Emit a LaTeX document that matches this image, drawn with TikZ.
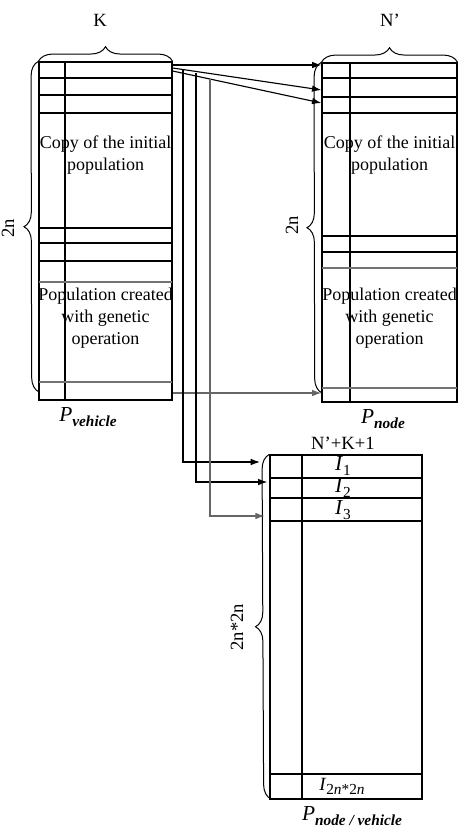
\documentclass[tikz,border=0pt]{standalone}
\usepackage{fontspec}
\setmainfont{Liberation Serif}
\usetikzlibrary{arrows.meta,fit,positioning,decorations.pathreplacing}
\newcommand{\lowsub}[1]{\raisebox{-.45ex}{\fontsize{11.5}{13}\selectfont #1}}
\tikzset{
  tbl/.style={rectangle,draw=black,line width=.95pt,inner sep=0pt},
  rw/.style={draw=black,line width=.85pt},
  rwg/.style={draw=black!55,line width=.95pt},
  arr/.style={-{Latex[length=7pt,width=5pt]},line width=.85pt,draw=black},
  arrg/.style={arr,draw=black!60},
  brc/.style={decorate,decoration={brace,amplitude=11pt},line width=.75pt},
  lb/.style={font=\fontsize{14}{16.5}\selectfont,inner sep=0pt},
  tb/.style={lb,font=\fontsize{13.5}{16.5}\selectfont,align=center},
  big/.style={font=\fontsize{16}{18}\selectfont,inner sep=0pt},
}
\begin{document}
\begin{tikzpicture}[x=0.75pt,y=-0.75pt]
\useasboundingbox (0,0) rectangle (474,828);
% --- P_vehicle
\node[tbl,fit={(39,62)(172,400)}] (veh) {};
\draw[rw] (65,62) -- (65,400);
\foreach \y in {78,95,113,228,243,261}
  \draw[rw] (39,\y) -- (172,\y);
\foreach \y in {282,382}
  \draw[rwg] (39,\y) -- (172,\y);
\node[tb] (vc) at (105.5,155) {Copy of the initial\\population};
\node[tb] (vg) at (105.5,318) {Population created\\with genetic\\operation};
\node[big] (vlab) at (88,417) {\textit{P}\lowsub{\bfseries\itshape vehicle}};
\draw[brc] (veh.north west) -- (veh.north east);
\node[lb] (k) at (100,20) {K};
\draw[brc] (39,392) -- (veh.north west);
\node[lb,rotate=90] (vn) at (8,228) {2n};
% --- P_node
\node[tbl,fit={(322,63)(457,402)}] (nod) {};
\draw[rw] (350,63) -- (350,402);
\foreach \y in {78,97,113,236,252}
  \draw[rw] (322,\y) -- (457,\y);
\foreach \y in {268,388}
  \draw[rwg] (322,\y) -- (457,\y);
\node[tb] (nc) at (389.5,155) {Copy of the initial\\population};
\node[tb] (ng) at (389.5,318) {Population created\\with genetic\\operation};
\node[big] (nlab) at (383,419) {\textit{P}\lowsub{\bfseries\itshape node}};
\draw[brc] (nod.north west) -- (nod.north east);
\node[lb] (np) at (390,20) {N'};
\draw[brc] (322,393) -- (nod.north west);
\node[lb,rotate=90] (nn) at (292,225) {2n};
% --- P_node/vehicle
\node[tbl,fit={(270,455)(422,799)}] (pnv) {};
\draw[rw] (302,455) -- (302,799);
\foreach \y in {478,498,521,774}
  \draw[rw] (270,\y) -- (422,\y);
\node[big] (i1) at (343,466) {\textit{I}\lowsub{1}};
\node[big] (i2) at (343,488) {\textit{I}\lowsub{2}};
\node[big] (i3) at (343,510) {\textit{I}\lowsub{3}};
\node[lb] (in) at (342,786) {\textit{I}\lowsub{2\textit{n}*2\textit{n}}};
\node[big] (plab) at (352,816) {\textit{P}\lowsub{\bfseries\itshape node / vehicle}};
\node[lb] (nk) at (343,443) {N'+K+1};
\draw[brc] (271,799) -- (pnv.north west);
\node[lb,rotate=90] (pn) at (237,627) {2n*2n};
% --- copies
\draw[arr] (veh.east |- 0,65) -- (nod.west |- 0,65);
\draw[arr] (veh.east |- 0,68) -- (nod.west |- 0,90);
\draw[arr] (veh.east |- 0,71) -- (nod.west |- 0,103);
\draw[arrg] (veh.east |- 0,393) -- (nod.west |- 0,393);
\draw[arr,shorten >=7pt] (183,70) |- (pnv.west |- 0,462);
\draw[arr,shorten >=1.5pt] (196,73) |- (pnv.west |- 0,482);
\draw[arrg,shorten >=3.5pt] (210,79) |- (pnv.west |- 0,516);
\end{tikzpicture}
\end{document}
